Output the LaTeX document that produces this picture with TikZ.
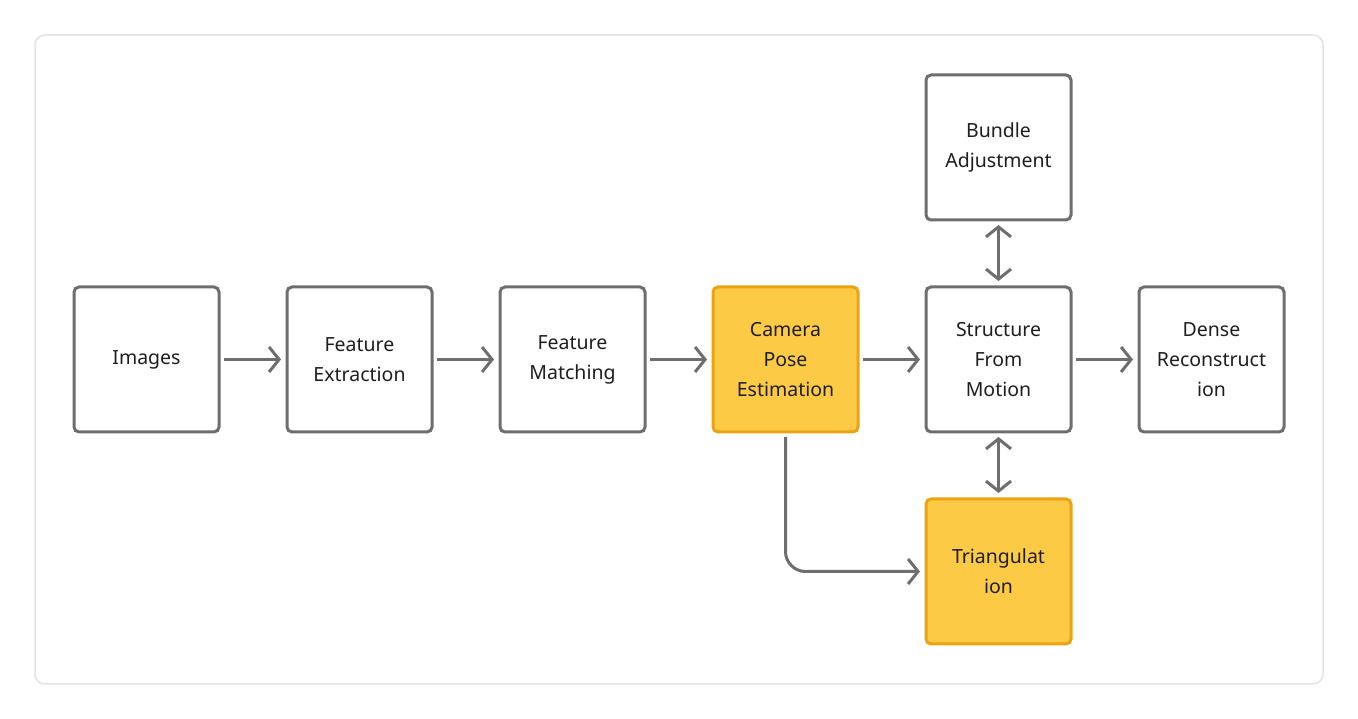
\documentclass[tikz,border=0pt]{standalone}
\usepackage{fontspec}
\setmainfont{Noto Sans}
\usepackage{tikz}
\usetikzlibrary{arrows.meta,positioning}
\definecolor{cgray}{HTML}{6E6E6E}
\definecolor{cframe}{HTML}{E2E2E2}
\definecolor{cyellow}{HTML}{FDCA45}
\definecolor{cyellowdark}{HTML}{E8A413}
\definecolor{ctext}{HTML}{1E1E1E}

\begin{document}
\begin{tikzpicture}[
    x=1pt, y=1pt,
    box/.style={draw=cgray, fill=white, rounded corners=5pt, line width=3pt,
                minimum width=145pt, minimum height=145pt, outer sep=0pt,
                align=center, text=ctext, font=\fontsize{19.5}{30}\selectfont},
    hlbox/.style={box, fill=cyellow, draw=cyellowdark},
    arr/.style={-{Straight Barb[length=10pt,width=25pt]}, draw=cgray, line width=3pt,
                shorten <=5pt, shorten >=6pt},
    darr/.style={arr, {Straight Barb[length=10pt,width=25pt]}-{Straight Barb[length=10pt,width=25pt]}},
    node distance=68pt,
]

% frame
\useasboundingbox (0,0) rectangle (1358,719);
\draw[cframe, line width=1.5pt, rounded corners=10pt] (35,35) rectangle (1323,684);

% main row
\node[box] (images) at (146.5,359.5) {Images};
\node[box,   right=of images]     (extract) {Feature\\Extraction};
\node[box,   right=of extract]    (match)   {Feature\\Matching};
\node[hlbox, right=of match]      (pose)    {Camera\\Pose\\Estimation};
\node[box,   right=of pose]       (sfm)     {Structure\\From\\Motion};
\node[box,   right=of sfm]        (dense)   {Dense\\Reconstruct\\ion};

% above / below SfM
\node[box,   above=67pt of sfm]   (bundle)  {Bundle\\Adjustment};
\node[hlbox, below=67pt of sfm]   (tri)     {Triangulat\\ion};

% ── Arrows ──
\draw[arr] (images) -- (extract);
\draw[arr] (extract) -- (match);
\draw[arr] (match) -- (pose);
\draw[arr] (pose) -- (sfm);
\draw[arr] (sfm) -- (dense);

\draw[darr] (bundle) -- (sfm);
\draw[darr] (sfm) -- (tri);

% pose -> triangulation
\draw[arr, rounded corners=20pt] (pose.south) |- (tri.west);

\end{tikzpicture}
\end{document}
